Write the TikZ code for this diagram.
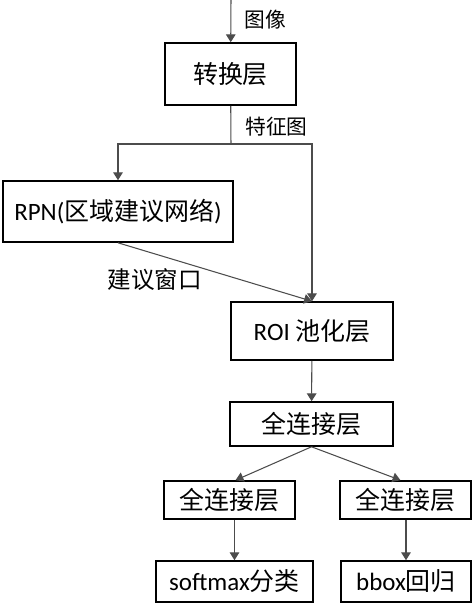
\documentclass[tikz,border=0pt]{standalone}
\usepackage{fontspec}
\setmainfont{Carlito}
\newfontfamily\cjk{Noto Sans CJK SC}
\usetikzlibrary{arrows.meta}
\begin{document}
\begin{tikzpicture}[box/.style={rectangle,draw,line width=0.9pt,inner sep=0pt,font=\fontsize{14.2}{16}\selectfont},
    lnk/.style={draw=black!70,line width=0.6pt},
    arr/.style={lnk,-{Triangle[length=4.5pt,width=5.5pt]}},
    lbl/.style={inner sep=0pt,font=\fontsize{11.8}{14}\selectfont\cjk}]
            \useasboundingbox (0,0) rectangle (9.48,-12.08);
            \coordinate(in)at(4.62,0);\coordinate(split)at(4.62,-2.88);
            \node[box,minimum width=2.62cm,minimum height=1.24cm] (conv) at (4.61,-1.48) {\cjk 转换层};
            \node[box,minimum width=4.6cm,minimum height=1.22cm] (rpn) at (2.36,-4.23) {RPN({\cjk 区域建议网络})};
            \node[box,minimum width=3.24cm,minimum height=1.16cm] (roi) at (6.24,-6.62) {ROI {\cjk 池化层}};
            \node[box,minimum width=3.26cm,minimum height=0.88cm] (fc) at (6.23,-8.48) {\cjk 全连接层};
            \node[box,minimum width=2.62cm,minimum height=0.76cm] (fcl) at (4.59,-10.0) {\cjk 全连接层};
            \node[box,minimum width=2.62cm,minimum height=0.76cm] (fcr) at (8.11,-10.0) {\cjk 全连接层};
            \node[box,minimum width=3.14cm,minimum height=0.82cm] (soft) at (4.69,-11.63) {softmax{\cjk 分类}};
            \node[box,minimum width=2.6cm,minimum height=0.82cm] (bbox) at (8.12,-11.63) {bbox{\cjk 回归}};
            \node[lbl,anchor=west] (img) at (4.88,-0.4) {图像};
            \node[lbl,anchor=west] (feat) at (4.9,-2.54) {特征图};
            \node[lbl,font=\fontsize{13.4}{15}\selectfont\cjk] (prop) at (3.1,-5.6) {建议窗口};
            \draw[arr] (in)--(conv);
            \draw[lnk] (conv)--(split);
            \draw[arr] (split)-|(rpn.north);
            \draw[arr] (split)-|(roi.north);
            \draw[arr] (rpn.south)--(roi.north);
            \draw[arr] (roi)--(fc);
            \draw[arr] (fc.south)--([xshift=0.12cm]fcl.north);
            \draw[arr] (fc.south)--([xshift=-0.1cm]fcr.north);
            \draw[arr] (fcl.south-|soft.north)--(soft.north);
            \draw[arr] (fcr.south-|bbox.north)--(bbox.north);
          \end{tikzpicture}
\end{document}
